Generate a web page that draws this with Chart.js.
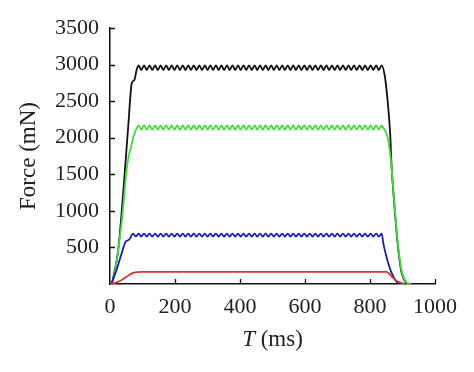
<!DOCTYPE html>
<html>
<head>
<meta charset="utf-8">
<script src="https://cdn.jsdelivr.net/npm/chart.js@4"></script>
<style>
  html, body { margin: 0; padding: 0; background: #fff; }
  #wrap { width: 474px; height: 372px; }
</style>
</head>
<body>
<div id="wrap"><canvas id="forceChart" width="474" height="372"></canvas></div>
<script>
// ── Data ──────────────────────────────────────────────────
const xTicks = [0, 200, 400, 600, 800, 1000];
const yTicks = [500, 1000, 1500, 2000, 2500, 3000, 3500];

// plateau sample times (ms), shared by the rippled traces
const rippleT = [88, 96, 105, 113, 122, 130, 139, 147, 156, 164,
  173, 181, 190, 198, 207, 215, 224, 232, 241, 249,
  258, 266, 275, 283, 292, 300, 309, 317, 326, 334,
  343, 351, 360, 368, 377, 385, 394, 402, 411, 419,
  428, 436, 445, 453, 462, 470, 479, 487, 496, 504,
  513, 521, 530, 538, 547, 555, 564, 572, 581, 589,
  598, 606, 615, 623, 632, 640, 649, 657, 666, 674,
  683, 691, 700, 708, 717, 725, 734, 742, 751, 759,
  768, 776, 785, 793, 802, 810, 819, 827, 836];

// black trace
const blackRiseT = [0, 5, 15, 24, 34, 46, 56, 67, 75, 82];
const blackRiseF = [0, 10, 200, 420, 875, 1560, 2150, 2744, 2790, 2930];
const blackRipple = [2990, 2925, 2990, 2925, 2990, 2925, 2990, 2925, 2990, 2925,
  2990, 2925, 2990, 2925, 2990, 2925, 2990, 2925, 2990, 2925,
  2990, 2925, 2990, 2925, 2990, 2925, 2990, 2925, 2990, 2925,
  2990, 2925, 2990, 2925, 2990, 2925, 2990, 2925, 2990, 2925,
  2990, 2925, 2990, 2925, 2990, 2925, 2990, 2925, 2990, 2925,
  2990, 2925, 2990, 2925, 2990, 2925, 2990, 2925, 2990, 2925,
  2990, 2925, 2990, 2925, 2990, 2925, 2990, 2925, 2990, 2925,
  2990, 2925, 2990, 2925, 2990, 2925, 2990, 2925, 2990, 2925,
  2990, 2925, 2990, 2925, 2990, 2925, 2990, 2925, 2990];
const blackFallT = [846, 854, 862, 867, 872, 877, 882, 887, 892, 897, 905, 913, 925];
const blackFallF = [2830, 2515, 2060, 1560, 1250, 960, 700, 470, 290, 160, 60, 15, 0];

// green trace
const greenRiseT = [0, 8, 18, 28, 38, 51, 58, 65, 72, 82];
const greenRiseF = [0, 30, 250, 560, 930, 1560, 1760, 1877, 2014, 2129];
const greenRipple = [2170, 2110, 2170, 2110, 2170, 2110, 2170, 2110, 2170, 2110,
  2170, 2110, 2170, 2110, 2170, 2110, 2170, 2110, 2170, 2110,
  2170, 2110, 2170, 2110, 2170, 2110, 2170, 2110, 2170, 2110,
  2170, 2110, 2170, 2110, 2170, 2110, 2170, 2110, 2170, 2110,
  2170, 2110, 2170, 2110, 2170, 2110, 2170, 2110, 2170, 2110,
  2170, 2110, 2170, 2110, 2170, 2110, 2170, 2110, 2170, 2110,
  2170, 2110, 2170, 2110, 2170, 2110, 2170, 2110, 2170, 2110,
  2170, 2110, 2170, 2110, 2170, 2110, 2170, 2110, 2170, 2110,
  2170, 2110, 2170, 2110, 2170, 2110, 2170, 2110, 2170];
const greenFallT = [840, 846, 851, 856, 862, 867, 872, 877, 882, 887, 892, 897, 905, 913, 925];
const greenFallF = [2140, 2100, 2050, 1969, 1780, 1560, 1270, 990, 730, 500, 320, 185, 75, 20, 0];

// blue trace
const blueRiseT = [0, 5, 20, 36, 48, 56, 62, 67, 71, 79];
const blueRiseF = [0, 20, 191, 420, 578, 600, 625, 670, 690, 650];
const blueRipple = [690, 648, 690, 648, 690, 648, 690, 648, 690, 648,
  690, 648, 690, 648, 690, 648, 690, 648, 690, 648,
  690, 648, 690, 648, 690, 648, 690, 648, 690, 648,
  690, 648, 690, 648, 690, 648, 690, 648, 690, 648,
  690, 648, 690, 648, 690, 648, 690, 648, 690, 648,
  690, 648, 690, 648, 690, 648, 690, 648, 690, 648,
  690, 648, 690, 648, 690, 648, 690, 648, 690, 648,
  690, 648, 690, 648, 690, 648, 690, 648, 690, 648,
  690, 648, 690, 648, 690, 648, 690, 648, 690];
const blueFallT = [841, 848, 856, 864, 872, 880, 887, 902];
const blueFallF = [556, 420, 283, 180, 100, 40, 10, 0];

// red trace (no ripple)
const redT = [0, 10, 20, 36, 50, 67, 82, 100, 851, 860, 867, 877, 887, 898, 908];
const redF = [0, 8, 22, 55, 95, 146, 162, 165, 165, 135, 100, 60, 31, 12, 0];

function pts(ts, fs) {
  return ts.map((t, i) => ({ x: t, y: fs[i] }));
}

const FONT = "'Liberation Serif', 'DejaVu Serif', serif";

// inward tick marks + x title with italic T
const axisDecor = {
  id: 'axisDecor',
  afterDraw(chart) {
    const { ctx, scales: { x, y } } = chart;
    ctx.save();
    ctx.strokeStyle = '#111';
    ctx.lineWidth = 1.3;
    ctx.beginPath();
    yTicks.forEach(v => {
      const py = Math.round(y.getPixelForValue(v)) + 0.5;
      ctx.moveTo(x.left, py);
      ctx.lineTo(x.left + 5, py);
    });
    xTicks.slice(1).forEach(v => {
      const px = Math.round(x.getPixelForValue(v)) + 0.5;
      ctx.moveTo(px, y.bottom);
      ctx.lineTo(px, y.bottom - 5);
    });
    ctx.stroke();

    // "T (ms)"
    ctx.fillStyle = '#222';
    ctx.textBaseline = 'middle';
    const italic = 'italic 23px ' + FONT;
    const normal = '23px ' + FONT;
    ctx.font = italic;
    const wT = ctx.measureText('T').width;
    ctx.font = normal;
    const wRest = ctx.measureText(' (ms)').width;
    const cx = (x.left + x.right) / 2;
    const startX = cx - (wT + wRest) / 2;
    ctx.font = italic;
    ctx.fillText('T', startX, 340);
    ctx.font = normal;
    ctx.fillText(' (ms)', startX + wT, 340);
    ctx.restore();
  }
};

const lineStyle = {
  pointRadius: 0,
  borderWidth: 1.8,
  cubicInterpolationMode: 'monotone',
  fill: false
};

new Chart(document.getElementById('forceChart'), {
  type: 'line',
  data: {
    datasets: [
      { label: 'red', data: pts(redT, redF), borderColor: '#d8332e', ...lineStyle },
      { label: 'blue', data: pts(blueRiseT.concat(rippleT, blueFallT), blueRiseF.concat(blueRipple, blueFallF)), borderColor: '#1c1cae', ...lineStyle },
      { label: 'green', data: pts(greenRiseT.concat(rippleT, greenFallT), greenRiseF.concat(greenRipple, greenFallF)), borderColor: '#3fdc3f', ...lineStyle },
      { label: 'black', data: pts(blackRiseT.concat(rippleT, blackFallT), blackRiseF.concat(blackRipple, blackFallF)), borderColor: '#111111', ...lineStyle },
    ]
  },
  options: {
    responsive: false,
    animation: false,
    layout: { padding: { top: 28, right: 39, left: 0, bottom: 0 } },
    plugins: { legend: { display: false }, tooltip: { enabled: false } },
    scales: {
      x: {
        type: 'linear', min: 0, max: 1000,
        afterFit: s => { s.height = 88; },
        afterBuildTicks: s => { s.ticks = xTicks.map(v => ({ value: v })); },
        grid: { display: false, drawTicks: false },
        border: { display: true, color: '#111', width: 1.5 },
        ticks: {
          padding: 10, color: '#222', font: { family: FONT, size: 22 }, maxRotation: 0,
          callback: v => String(v)
        },
        title: { display: false }
      },
      y: {
        type: 'linear', min: 0, max: 3500,
        afterFit: s => { s.width = 110; },
        afterBuildTicks: s => { s.ticks = [0].concat(yTicks).map(v => ({ value: v })); },
        grid: { display: false, drawTicks: false },
        border: { display: true, color: '#111', width: 1.5 },
        ticks: {
          padding: 11, color: '#222', font: { family: FONT, size: 22 },
          callback: v => (v === 0 ? '' : String(v))
        },
        title: {
          display: true, text: 'Force (mN)', color: '#222',
          font: { family: FONT, size: 23 }, padding: { top: 15, bottom: 0 }
        }
      }
    }
  },
  plugins: [axisDecor]
});
</script>
</body>
</html>
